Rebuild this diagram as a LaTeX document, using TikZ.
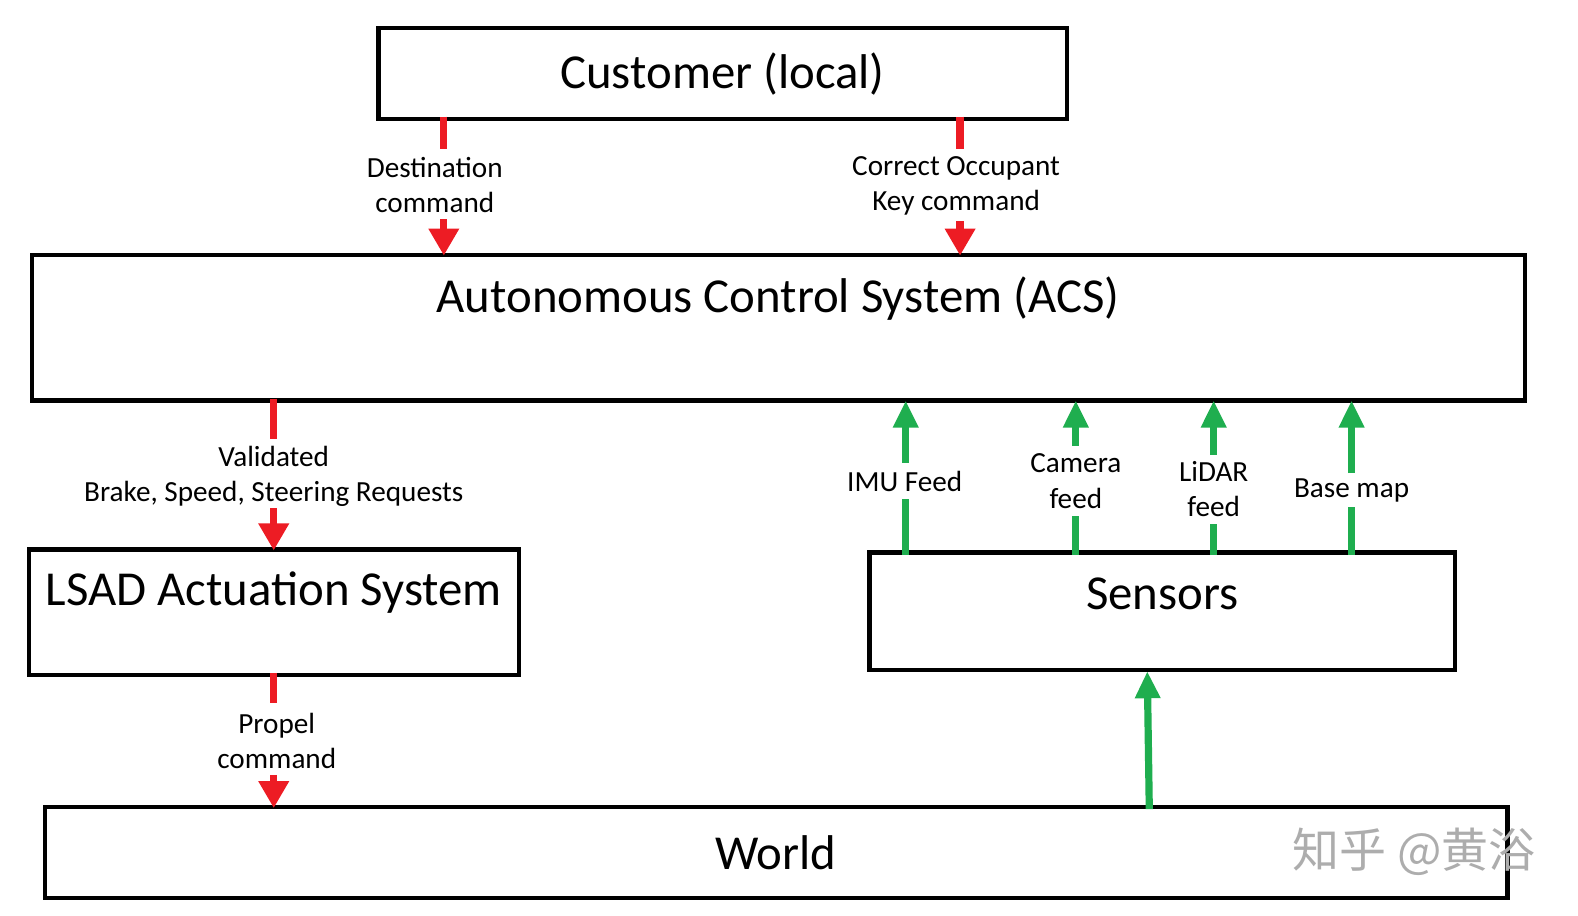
\documentclass[tikz,border=0pt]{standalone}
\usepackage{fontspec}
\setmainfont{Carlito}
\newfontfamily\cjk{Noto Sans CJK SC}
\usetikzlibrary{arrows.meta}
\definecolor{redarr}{HTML}{ED1C24}
\definecolor{greenarr}{HTML}{1FAE4F}
\begin{document}
\begin{tikzpicture}[x=0.50319pt,y=-0.50319pt,
  box/.style={draw=black,line width=2.1pt},
  big/.style={font=\fontsize{24.4}{28}\selectfont,inner sep=0pt},
  lab/.style={font=\fontsize{14.6}{17.6}\selectfont,align=center,inner sep=0pt},
  rseg/.style={draw=redarr,line width=3.6pt},
  rarr/.style={draw=redarr,line width=3.6pt,-{Triangle[width=14.5pt,length=13.5pt]}},
  gseg/.style={draw=greenarr,line width=3.6pt},
  garr/.style={draw=greenarr,line width=3.6pt,-{Triangle[width=12pt,length=13.5pt]}}]
\useasboundingbox (0,0) rectangle (1568,910);
% boxes
\draw[box] (376,28) rectangle (1060,118);
\draw[box] (32,253) rectangle (1515,398);
\draw[box] (29,546) rectangle (516,671);
\draw[box] (864,549) rectangle (1446,666);
\draw[box] (45,802) rectangle (1498,892);
\node[big] (cust) at (718,74) {Customer (local)};
\node[big] (acs) at (773,297) {Autonomous Control System (ACS)};
\node[big] (lsad) at (272,589) {LSAD Actuation System};
\node[big] (sens) at (1155,590) {Sensors};
\node[big] (world) at (771,847) {World};
% labels
\node[lab] (l1) at (432,184) {Destination\\command};
\node[lab] (l2) at (950,185) {Correct Occupant\\Key command};
\node[lab] (l3) at (272,473) {Validated\\Brake, Speed, Steering Requests};
\node[lab] (l4) at (275,736) {Propel\\command};
\node[lab] (l5) at (899,478) {IMU Feed};
\node[lab] (l6) at (1069,478) {Camera\\feed};
\node[lab] (l7) at (1206,486) {LiDAR\\feed};
\node[lab] (l8) at (1343,487) {Base map};
% red arrows
\coordinate (a1) at (441,116); \coordinate (b1) at (441,148);
\coordinate (c1) at (441,218); \coordinate (d1) at (441,254);
\draw[rseg] (a1) -- (b1); \draw[rarr] (c1) -- (d1);
\coordinate (a2) at (954,116); \coordinate (b2) at (954,148);
\coordinate (c2) at (954,220); \coordinate (d2) at (954,254);
\draw[rseg] (a2) -- (b2); \draw[rarr] (c2) -- (d2);
\coordinate (a3) at (272,396); \coordinate (b3) at (272,436);
\coordinate (c3) at (272,505); \coordinate (d3) at (272,547);
\draw[rseg] (a3) -- (b3); \draw[rarr] (c3) -- (d3);
\coordinate (a4) at (272,669); \coordinate (b4) at (272,699);
\coordinate (c4) at (272,770); \coordinate (d4) at (272,803);
\draw[rseg] (a4) -- (b4); \draw[rarr] (c4) -- (d4);
% green arrows
\coordinate (e5) at (900,551); \coordinate (f5) at (900,496);
\coordinate (g5) at (900,460); \coordinate (h5) at (900,398);
\draw[gseg] (e5) -- (f5); \draw[garr] (g5) -- (h5);
\coordinate (e6) at (1069,551); \coordinate (f6) at (1069,513);
\coordinate (g6) at (1069,443); \coordinate (h6) at (1069,398);
\draw[gseg] (e6) -- (f6); \draw[garr] (g6) -- (h6);
\coordinate (e7) at (1206,551); \coordinate (f7) at (1206,521);
\coordinate (g7) at (1206,452); \coordinate (h7) at (1206,398);
\draw[gseg] (e7) -- (f7); \draw[garr] (g7) -- (h7);
\coordinate (e8) at (1343,551); \coordinate (f8) at (1343,504);
\coordinate (g8) at (1343,470); \coordinate (h8) at (1343,398);
\draw[gseg] (e8) -- (f8); \draw[garr] (g8) -- (h8);
\coordinate (e9) at (1142,804); \coordinate (h9) at (1140,667);
\draw[garr] (e9) -- (h9);
% watermark
\node[font=\cjk\fontsize{23.5}{26}\selectfont,text=black!32,inner sep=0pt] (wm) at (1405,846) {知乎 @黄浴};
\end{tikzpicture}
\end{document}
